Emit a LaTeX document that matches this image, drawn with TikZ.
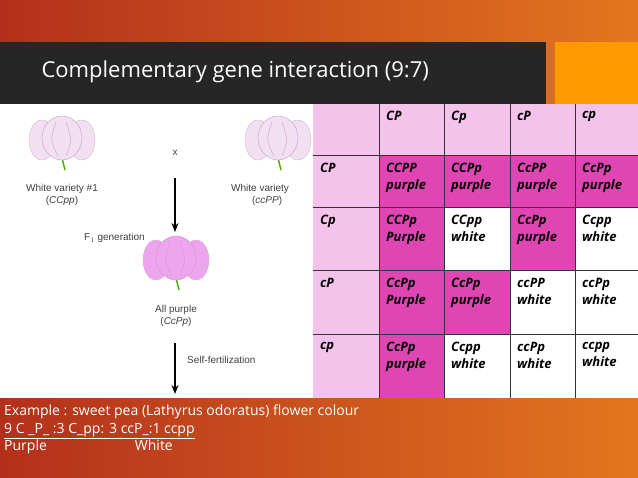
\documentclass[tikz,border=0pt]{standalone}
\usepackage{fontspec}
\usetikzlibrary{arrows.meta}
\setmainfont{Open Sans}
\newfontfamily\arialf{Liberation Sans}
\begin{document}
\begin{tikzpicture}[x=1pt,y=-1pt,
  hd/.style={fill=hdpink},
  pu/.style={fill=cellpurple},
  wh/.style={fill=white},
  ctext/.style={anchor=north west,font=\itshape\bfseries\fontsize{13}{17}\selectfont,align=left,inner sep=0pt},
  lab/.style={font=\arialf\fontsize{10}{12}\selectfont,text=black!75,align=center,inner sep=1pt},
  arr/.style={-{Stealth[length=9pt,width=7pt]},line width=1.4pt}]
\definecolor{hdpink}{HTML}{F3C3EC}
\definecolor{cellpurple}{HTML}{DF46B3}
\definecolor{bgl}{HTML}{B3301C}
\definecolor{bgr}{HTML}{E3761E}
\useasboundingbox (0,0) rectangle (638,478);
\shade[left color=bgl,right color=bgr] (0,0) rectangle (638,478);
\fill[black!85] (0,42) rectangle (546,104);
\fill[orange!80!yellow] (555,42) rectangle (638,104);
\node[anchor=west,text=white,font=\fontsize{22}{26}\selectfont] (title) at (38,72) {Complementary gene interaction (9:7)};
% left picture
\fill[white] (0,104) rectangle (314,398);
\foreach \n/\cx/\cy/\col in {f1/62/140/violet!12, f2/278/140/violet!12, f3/176/260/violet!40!magenta!35}{
  \draw[green!40!olive,line width=1.5pt] (\cx,\cy+18) -- (\cx+3,\cy+30);
  \fill[\col,draw=violet!30] (\cx-20,\cy) circle[x radius=13,y radius=20];
  \fill[\col,draw=violet!30] (\cx+20,\cy) circle[x radius=13,y radius=20];
  \fill[\col,draw=violet!40] (\cx,\cy-2) circle[x radius=20,y radius=22];
  \draw[violet!40] (\cx-6,\cy-18) .. controls (\cx-12,\cy) .. (\cx-4,\cy+16);
  \draw[violet!40] (\cx+4,\cy-18) .. controls (\cx+10,\cy) .. (\cx+4,\cy+16);
}
\node[lab] (p1) at (62,195) {White variety \#1\\(\textit{CCpp})};
\node[lab,anchor=west] (p2) at (230,195) {White variety\\\hspace*{14pt}(\textit{ccPP})};
\node[lab] (x) at (175,153) {x};
\coordinate (a1) at (175,178);
\coordinate (a1e) at (175,232);
\draw[arr] (a1) -- (a1e);
\node[lab,anchor=east] (f1g) at (146,238) {F$_1$ generation};
\node[lab] (f1l) at (176,316) {All purple\\(\textit{CcPp})};
\coordinate (a2) at (175,343);
\coordinate (a2e) at (175,394);
\draw[arr] (a2) -- (a2e);
\node[lab,anchor=west] (sf) at (186,360) {Self-fertilization};
% table
\def\xs{{313,379,444,510,575,638}}
\def\ys{{104,156,208,271,335,398}}
\foreach \r/\c/\s in {0/0/hd,0/1/hd,0/2/hd,0/3/hd,0/4/hd,
  1/0/hd,1/1/pu,1/2/pu,1/3/pu,1/4/pu,
  2/0/hd,2/1/pu,2/2/wh,2/3/pu,2/4/wh,
  3/0/hd,3/1/pu,3/2/pu,3/3/wh,3/4/wh,
  4/0/hd,4/1/pu,4/2/wh,4/3/wh,4/4/wh}{
  \pgfmathsetmacro\xa{\xs[\c]}\pgfmathsetmacro\xb{\xs[\c+1]}
  \pgfmathsetmacro\ya{\ys[\r]}\pgfmathsetmacro\yb{\ys[\r+1]}
  \path[\s] (\xa,\ya) rectangle (\xb,\yb);
}
\foreach \i in {1,...,4}{\pgfmathsetmacro\xx{\xs[\i]}\draw[black!80,line width=1pt] (\xx,104) -- (\xx,398);}
\foreach \i in {1,...,4}{\pgfmathsetmacro\yy{\ys[\i]}\draw[black!80,line width=1pt] (313,\yy) -- (638,\yy);}
\foreach \r/\c/\t in {0/1/CP,0/2/Cp,0/3/cP,0/4/cp,1/0/CP,2/0/Cp,3/0/cP,4/0/cp,
  1/1/{CCPP\\purple},1/2/{CCPp\\purple},1/3/{CcPP\\purple},1/4/{CcPp\\purple},
  2/1/{CCPp\\Purple},2/2/{CCpp\\white},2/3/{CcPp\\purple},2/4/{Ccpp\\white},
  3/1/{CcPp\\Purple},3/2/{CcPp\\purple},3/3/{ccPP\\white},3/4/{ccPp\\white},
  4/1/{CcPp\\purple},4/2/{Ccpp\\white},4/3/{ccPp\\white},4/4/{ccpp\\white}}{
  \pgfmathsetmacro\xa{\xs[\c]+7}\pgfmathsetmacro\ya{\ys[\r]+7}
  \node[ctext] (t\r\c) at (\xa,\ya) {\t};
}
\node[anchor=north west,text=white,font=\fontsize{14}{17.5}\selectfont,align=left,inner sep=0pt] (ex) at (4,405)
 {Example : sweet pea (Lathyrus odoratus) flower colour\\
  \underline{9 C \_P\_ :3 C\_pp: 3 ccP\_:1 ccpp}\\
  Purple\hspace{88pt}White};
\end{tikzpicture}
\end{document}
